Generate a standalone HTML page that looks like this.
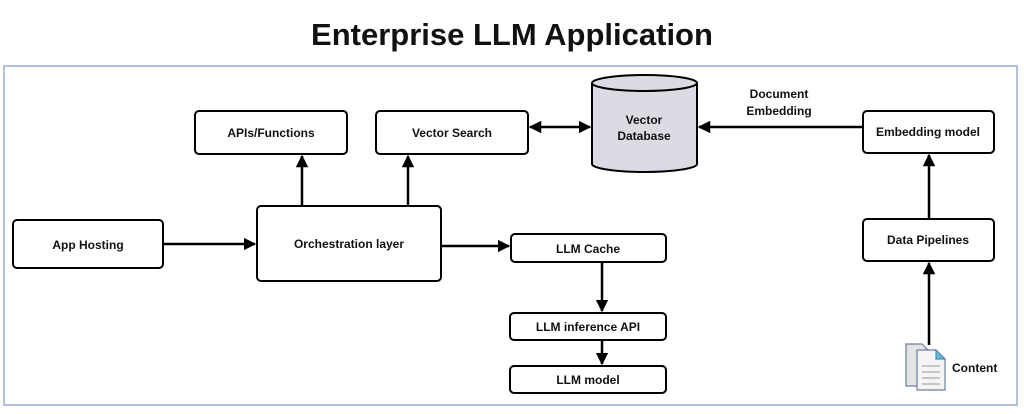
<!DOCTYPE html>
<html><head><style>
body{margin:0;background:#fff;width:1024px;height:409px;overflow:hidden}
svg text{font-family:"Liberation Sans",sans-serif;font-weight:bold;fill:#111}
</style></head><body>
<svg width="1024" height="409" viewBox="0 0 1024 409" xmlns="http://www.w3.org/2000/svg">
<defs>
<marker id="a" viewBox="0 0 10 10" refX="9" refY="5" markerWidth="5" markerHeight="5" orient="auto-start-reverse"><path d="M0,0 L10,5 L0,10 z" fill="#000"/></marker>
</defs>
<text x="512" y="45" text-anchor="middle" style="font-size:31px">Enterprise LLM Application</text>
<rect x="4" y="66" width="1013" height="339" fill="none" stroke="#9aaed0" stroke-width="1.5"/>
<g fill="#fff" stroke="#000" stroke-width="2">
<rect x="195" y="111" width="152" height="43" rx="4"/>
<rect x="376" y="111" width="152" height="43" rx="4"/>
<rect x="13" y="220" width="150" height="48" rx="4"/>
<rect x="257" y="206" width="184" height="75" rx="4"/>
<rect x="511" y="234" width="155" height="28" rx="4"/>
<rect x="510" y="313" width="156" height="27" rx="4"/>
<rect x="510" y="366" width="156" height="27" rx="4"/>
<rect x="863" y="111" width="131" height="42" rx="4"/>
<rect x="863" y="219" width="131" height="42" rx="4"/>
<path d="M592,83 L592,164 A52.5,8 0 0 0 697,164 L697,83" fill="#dcdbe3"/>
<ellipse cx="644.5" cy="83" rx="52.5" ry="8" fill="#dcdbe3"/>
</g>
<g stroke="#000" stroke-width="2.5" fill="none">
<line x1="163" y1="244" x2="255" y2="244" marker-end="url(#a)"/>
<line x1="441" y1="246" x2="509" y2="246" marker-end="url(#a)"/>
<line x1="302" y1="206" x2="302" y2="156" marker-end="url(#a)"/>
<line x1="408" y1="206" x2="408" y2="156" marker-end="url(#a)"/>
<line x1="530" y1="127" x2="590" y2="127" marker-start="url(#a)" marker-end="url(#a)"/>
<line x1="863" y1="127" x2="699" y2="127" marker-end="url(#a)"/>
<line x1="602" y1="262" x2="602" y2="311" marker-end="url(#a)"/>
<line x1="602" y1="340" x2="602" y2="364" marker-end="url(#a)"/>
<line x1="929" y1="219" x2="929" y2="155" marker-end="url(#a)"/>
<line x1="929" y1="345" x2="929" y2="263" marker-end="url(#a)"/>
</g>
<g style="font-size:12px" text-anchor="middle">
<text x="271" y="137">APIs/Functions</text>
<text x="452" y="137">Vector Search</text>
<text x="88" y="249">App Hosting</text>
<text x="349" y="248">Orchestration layer</text>
<text x="588" y="253">LLM Cache</text>
<text x="588" y="331">LLM inference API</text>
<text x="588" y="384">LLM model</text>
<text x="928" y="136">Embedding model</text>
<text x="928" y="244">Data Pipelines</text>
<text x="644" y="124">Vector</text>
<text x="644" y="140">Database</text>
<text x="779" y="98">Document</text>
<text x="779" y="115">Embedding</text>
</g>
<text x="952" y="372" style="font-size:12px">Content</text>
<g stroke="#6b7fa0" stroke-width="1.2">
<path d="M906,344 L922,344 L928,350 L928,386 L906,386 z" fill="#e4e4e4"/>
<path d="M917,350 L936,350 L945,359 L945,390 L917,390 z" fill="#f4f4f4"/>
<path d="M936,350 L945,359 L936,359 z" fill="#4fc3e8"/>
<path d="M922,366 L940,366 M922,372 L940,372 M922,378 L940,378 M922,384 L940,384" stroke="#aaa"/>
</g>
</svg>
</body></html>
